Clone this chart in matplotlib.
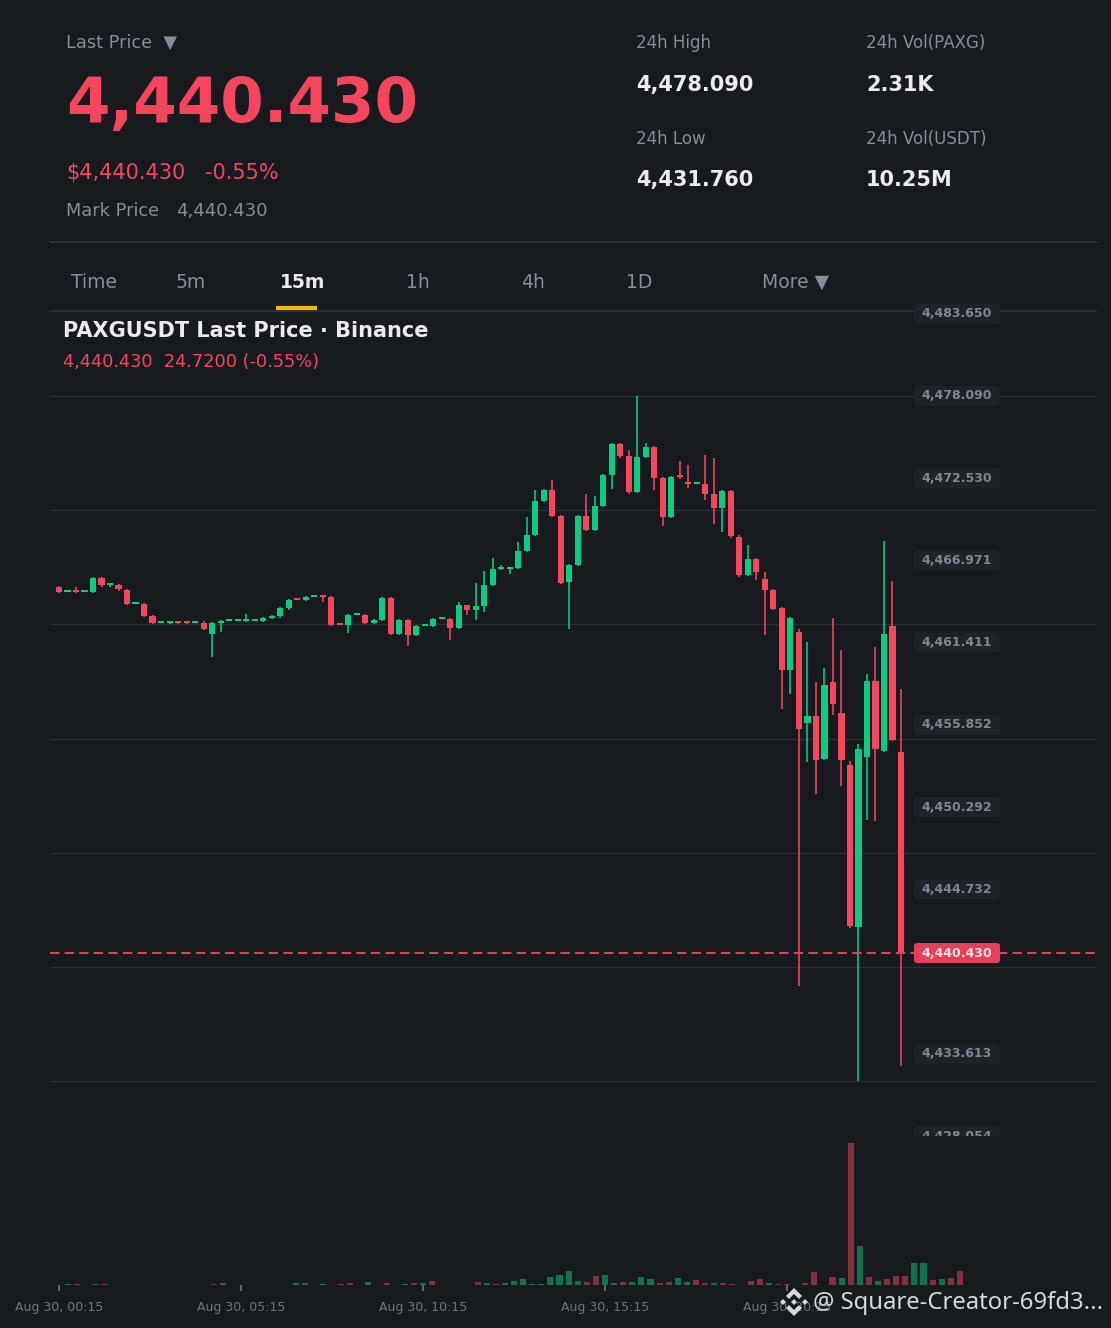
import matplotlib
matplotlib.use("Agg")
import matplotlib.pyplot as plt
import numpy as np
from matplotlib.patches import FancyBboxPatch, Polygon

# 15m PAXGUSDT candles
opens = [4465.18, 4464.84, 4464.97, 4464.84, 4464.84, 4465.78, 4465.31, 4465.31, 4464.97, 4464.03,
         4464.03, 4463.22, 4462.74, 4462.74, 4462.88, 4462.88, 4462.74, 4462.74, 4462.00, 4462.74,
         4462.88, 4462.88, 4462.88, 4462.88, 4462.88, 4463.08, 4463.22, 4463.76, 4464.43, 4464.30,
         4464.50, 4464.64, 4464.50, 4462.74, 4462.61, 4463.28, 4463.28, 4462.74, 4462.95, 4464.43,
         4462.00, 4462.95, 4461.93, 4462.54, 4462.54, 4463.01, 4463.01, 4462.41, 4463.96, 4463.62,
         4463.89, 4465.31, 4466.39, 4466.39, 4466.46, 4467.61, 4468.69, 4470.99, 4471.73, 4469.98,
         4465.51, 4466.66, 4469.98, 4469.03, 4470.65, 4472.75, 4474.85, 4474.03, 4471.60, 4473.97,
         4474.64, 4472.55, 4469.91, 4472.75, 4472.28, 4472.14, 4472.14, 4471.46, 4470.52, 4471.67,
         4468.56, 4465.99, 4467.07, 4465.72, 4464.97, 4463.76, 4459.56, 4462.13, 4455.98, 4456.45,
         4453.55, 4458.75, 4456.66, 4453.14, 4442.19, 4453.68, 4458.82, 4454.09, 4462.54, 4454.02]
highs = [4465.24, 4464.97, 4465.18, 4464.97, 4465.85, 4465.85, 4465.45, 4465.38, 4465.04, 4464.16,
         4464.09, 4463.28, 4462.88, 4462.88, 4462.88, 4462.88, 4462.88, 4462.88, 4462.81, 4462.95,
         4463.01, 4463.01, 4463.35, 4463.01, 4463.15, 4463.28, 4463.82, 4464.37, 4464.43, 4464.57,
         4464.64, 4464.64, 4464.57, 4462.74, 4463.35, 4463.42, 4463.35, 4463.01, 4464.50, 4464.50,
         4463.01, 4463.01, 4462.61, 4462.68, 4463.08, 4463.15, 4463.08, 4464.16, 4463.96, 4465.45,
         4466.26, 4467.14, 4466.66, 4466.53, 4468.22, 4469.91, 4471.73, 4471.80, 4472.41, 4470.04,
         4466.73, 4470.04, 4471.46, 4471.33, 4472.82, 4474.91, 4474.91, 4474.44, 4478.09, 4474.91,
         4474.71, 4472.61, 4472.68, 4473.70, 4473.43, 4472.28, 4474.10, 4473.90, 4471.73, 4471.73,
         4468.69, 4468.02, 4467.14, 4466.19, 4465.04, 4463.82, 4463.15, 4462.34, 4461.46, 4458.75,
         4459.70, 4463.08, 4460.92, 4453.41, 4454.56, 4459.29, 4461.12, 4468.29, 4465.58, 4458.28]
lows = [4464.77, 4464.84, 4464.77, 4464.84, 4464.77, 4465.18, 4465.18, 4464.91, 4463.96, 4464.03,
        4463.15, 4462.68, 4462.74, 4462.68, 4462.68, 4462.68, 4462.74, 4462.27, 4460.44, 4462.13,
        4462.88, 4462.88, 4462.81, 4462.88, 4462.81, 4463.01, 4463.08, 4463.62, 4464.30, 4464.23,
        4464.50, 4464.16, 4462.54, 4462.61, 4462.07, 4463.28, 4462.68, 4462.68, 4462.88, 4461.93,
        4461.93, 4461.19, 4461.86, 4462.54, 4462.47, 4463.01, 4461.59, 4462.34, 4463.28, 4462.95,
        4463.49, 4465.24, 4466.33, 4466.06, 4466.39, 4467.54, 4468.63, 4470.92, 4469.91, 4465.38,
        4462.34, 4466.60, 4468.96, 4468.96, 4470.59, 4471.80, 4473.90, 4471.46, 4471.53, 4473.90,
        4471.73, 4469.30, 4469.84, 4472.48, 4471.87, 4472.14, 4471.06, 4469.44, 4468.90, 4468.49,
        4465.85, 4465.92, 4465.65, 4461.93, 4463.62, 4456.93, 4457.94, 4438.20, 4453.35, 4451.18,
        4453.48, 4456.52, 4451.72, 4442.12, 4431.76, 4449.42, 4449.35, 4454.02, 4454.76, 4432.79]
closes = [4464.84, 4464.97, 4464.84, 4464.97, 4465.78, 4465.31, 4465.45, 4465.04, 4464.03, 4464.16,
          4463.22, 4462.74, 4462.88, 4462.88, 4462.74, 4462.74, 4462.88, 4462.34, 4462.74, 4462.88,
          4463.01, 4463.01, 4463.01, 4463.01, 4463.08, 4463.22, 4463.76, 4464.30, 4464.30, 4464.50,
          4464.64, 4464.50, 4462.61, 4462.61, 4463.28, 4463.42, 4462.74, 4462.95, 4464.43, 4462.00,
          4462.95, 4461.93, 4462.54, 4462.68, 4463.01, 4463.15, 4462.41, 4463.96, 4463.62, 4463.89,
          4465.31, 4466.39, 4466.53, 4466.53, 4467.61, 4468.69, 4470.99, 4471.73, 4469.98, 4465.45,
          4466.66, 4469.98, 4469.03, 4470.65, 4472.75, 4474.85, 4474.03, 4471.60, 4473.97, 4474.64,
          4472.55, 4469.91, 4472.61, 4472.61, 4472.14, 4472.28, 4471.46, 4470.52, 4471.67, 4468.63,
          4465.99, 4467.07, 4466.19, 4464.97, 4463.69, 4459.56, 4463.08, 4455.58, 4456.45, 4453.48,
          4458.55, 4457.27, 4453.48, 4442.26, 4454.22, 4458.82, 4454.22, 4462.00, 4454.83, 4440.43]
volumes = [0, 4, 4, 0, 4, 4, 0, 0, 0, 0,
           0, 0, 0, 0, 0, 0, 0, 4, 8, 0,
           0, 0, 0, 0, 0, 0, 8, 8, 0, 4,
           0, 4, 8, 0, 12, 0, 8, 0, 4, 8,
           8, 16, 0, 0, 0, 0, 12, 8, 4, 8,
           16, 24, 4, 4, 32, 40, 56, 16, 12, 36,
           40, 8, 12, 12, 32, 24, 8, 12, 28, 12,
           20, 8, 8, 8, 4, 0, 16, 24, 8, 4,
           4, 0, 8, 52, 0, 32, 28, 568, 156, 32,
           16, 24, 36, 36, 88, 88, 20, 24, 28, 56]

price_labels = [4483.650, 4478.090, 4472.530, 4466.971, 4461.411, 4455.852, 4450.292, 4444.732, 4433.613, 4428.054]
grid_prices = [4478.09, 4470.38, 4462.68, 4454.90, 4447.19, 4439.49, 4431.76]
last_price = 4440.430
tick_pos = [0, 20, 40, 60, 80]
tick_labels = ["Aug 30, 00:15", "Aug 30, 05:15", "Aug 30, 10:15", "Aug 30, 15:15", "Aug 30, 20:15"]

BG = "#171A1F"
GREEN = "#0ECB81"
RED = "#F6465D"
GREY = "#848E9C"
WHITE = "#EAECEF"
LINE = "#2B2F36"

W, H = 1111, 1328
fig = plt.figure(figsize=(W / 100, H / 100), dpi=100, facecolor=BG)


def px_axes(left, top, right, bottom):
    return fig.add_axes([left / W, 1 - bottom / H, (right - left) / W, (bottom - top) / H])


# overlay in pixel units for the page header
page = fig.add_axes([0, 0, 1, 1], zorder=5)
page.set_xlim(0, W)
page.set_ylim(H, 0)
page.axis("off")
page.patch.set_alpha(0)


def label(x, y, s, color=GREY, size=12, weight="normal", **kw):
    page.text(x, y, s, color=color, fontsize=size, fontweight=weight, va="center", **kw)


label(66, 43, "Last Price  ▼", GREY, 12.8)
label(66, 105, "4,440.430", RED, 45, "bold")
label(66, 173, "$4,440.430", RED, 15)
label(205, 173, "-0.55%", RED, 15)
label(66, 211, "Mark Price", GREY, 12.8)
label(176, 211, "4,440.430", GREY, 13)

label(636, 43, "24h High")
label(636, 85, "4,478.090", WHITE, 15, "bold")
label(636, 139, "24h Low")
label(636, 180, "4,431.760", WHITE, 15, "bold")
label(866, 43, "24h Vol(PAXG)")
label(866, 85, "2.31K", WHITE, 15, "bold")
label(866, 139, "24h Vol(USDT)")
label(866, 180, "10.25M", WHITE, 15, "bold")

page.plot([50, 1096], [242, 242], color=LINE, lw=1.4)
page.plot([50, 1096], [311, 311], color=LINE, lw=1.4)
for x, s in zip([71, 176, 406, 521, 626, 762], ["Time", "5m", "1h", "4h", "1D", "More ▼"]):
    label(x, 282, s, GREY, 13.5)
label(280, 282, "15m", WHITE, 13.5, "bold")
page.plot([276, 317], [308, 308], color="#F0B90B", lw=3, solid_capstyle="butt")

label(63, 331, "PAXGUSDT Last Price · Binance", WHITE, 15, "bold")
label(63, 362, "4,440.430  24.7200 (-0.55%)", RED, 12.8)

# price pane, sits above the page so the label boxes cover the divider
ax = px_axes(50, 300, 1096, 1136)
ax.set_zorder(6)
ax.set_facecolor("none")
ax.set_xlim((50 - 59) / 8.505, (1096 - 59) / 8.505)
ax.set_ylim(4428.06, 4484.58)
ax.axis("off")

x = np.arange(len(opens))
o = np.array(opens)
c = np.array(closes)
up = c >= o
colors = np.where(up, GREEN, RED)

for g in grid_prices:
    ax.axhline(g, color=LINE, lw=1, zorder=1)
ax.vlines(x, lows, highs, colors=colors, lw=1.45, alpha=0.8, zorder=2)
ax.bar(x, np.abs(c - o), bottom=np.minimum(o, c), width=0.72, color=colors, linewidth=0, zorder=3)
ax.axhline(last_price, color="#E0405A", lw=1.5, ls=(0, (4.5, 2.5)), zorder=4)

# boxes are 86x20 px, in candle and price units here
box_x = (914 - 59) / 8.505
box_w = 86 / 8.505
box_h = 20 * 0.06761
text_x = (957 - 59) / 8.505


def price_tag(p, fc, tc, z):
    ax.add_patch(FancyBboxPatch((box_x, p - box_h / 2), box_w, box_h, boxstyle="round,pad=0,rounding_size=0.35",
                                mutation_aspect=0.575, fc=fc, ec="none", zorder=z))
    ax.text(text_x, p, f"{p:,.3f}", ha="center", va="center", color=tc, fontsize=9,
            fontweight="bold", clip_on=True, zorder=z + 0.1)


for p in price_labels:
    price_tag(p, "#1F2329", "#7E8794", 5)
price_tag(last_price, "#E5405A", "#F3E3E6", 5)

# volume pane, its candles sit a little wider apart than the price pane
vol = px_axes(50, 1136, 1096, 1285)
vol.set_facecolor("none")
vol.set_xlim((50 - 59) / 9.1, (1096 - 59) / 9.1)
vol.set_ylim(0, 596)
vol.bar(x, volumes, width=0.66, color=colors, alpha=0.5, linewidth=0)
for s in vol.spines.values():
    s.set_visible(False)
vol.set_yticks([])
vol.set_xticks(tick_pos)
vol.set_xticklabels(tick_labels)
vol.tick_params(axis="x", color="#6E7580", labelcolor="#6E7580", length=4.5, width=1.2, labelsize=9, pad=7)

# watermark: logo shapes are offsets from its centre
logo_x, logo_y = 794, 1302
logo_parts = [
    [(0, -14), (8, -6), (5, -3), (0, -8), (-5, -3), (-8, -6)],
    [(0, 14), (8, 6), (5, 3), (0, 8), (-5, 3), (-8, 6)],
    [(-14, 0), (-11, -3), (-8, 0), (-11, 3)],
    [(14, 0), (11, -3), (8, 0), (11, 3)],
    [(0, -3), (3, 0), (0, 3), (-3, 0)],
]
for part in logo_parts:
    page.add_patch(Polygon([(logo_x + dx, logo_y + dy) for dx, dy in part], closed=True, fc="#D5D8DC", ec="none"))
page.text(813, 1303, "@ Square-Creator-69fd3...", color="#D5D8DC", fontsize=17.2, va="center", family="Noto Sans")

fig.savefig("out.png", dpi=100, facecolor=BG)
